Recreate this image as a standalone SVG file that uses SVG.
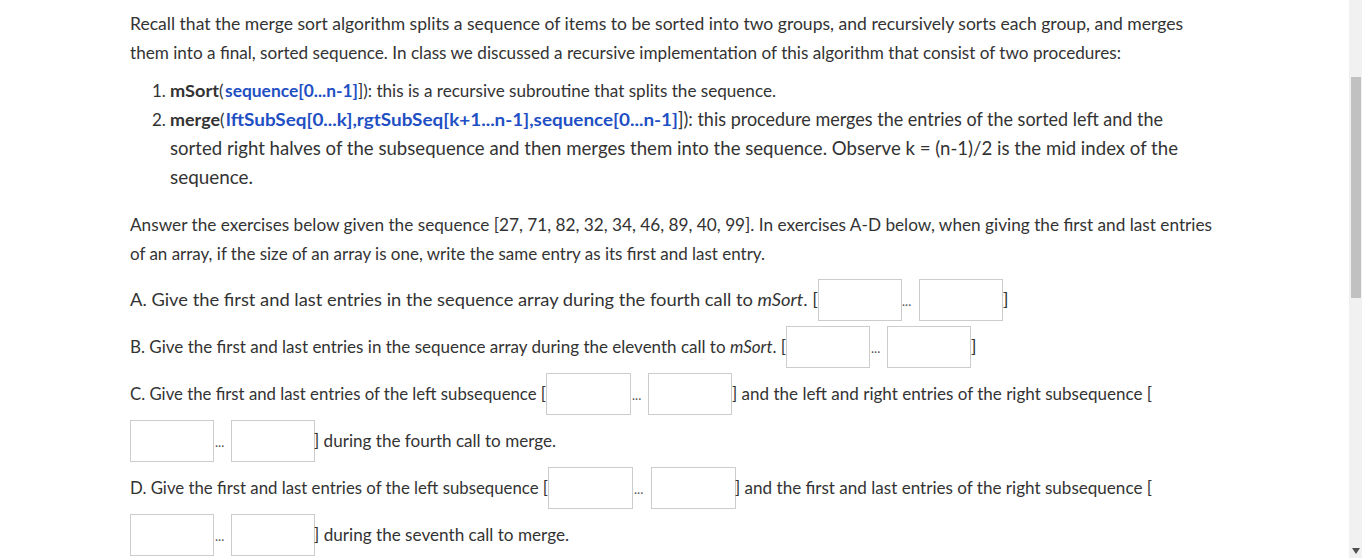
<svg xmlns="http://www.w3.org/2000/svg" width="1362" height="558" viewBox="0 0 1362 558">
<style>
text{font-family:Lato,"Open Sans","Liberation Sans",sans-serif;fill:#333;font-size:18px}
.s{font-size:17px}
.b{font-weight:bold}
.bl{fill:#1f4fc4;font-weight:bold;font-size:16.5px}
.box{fill:#fff;stroke:#ccc;stroke-width:1}
.d{font-size:13px;fill:#555}
</style>
<rect width="1362" height="558" fill="#fff"/>
<text x="130" y="30" textLength="1053" lengthAdjust="spacingAndGlyphs">Recall that the merge sort algorithm splits a sequence of items to be sorted into two groups, and recursively sorts each group, and merges</text>
<text x="130" y="59" textLength="991" lengthAdjust="spacingAndGlyphs" class="s">them into a final, sorted sequence. In class we discussed a recursive implementation of this algorithm that consist of two procedures:</text>
<text x="152" y="97" class="s">1.</text>
<text x="170" y="97" class="s b" textLength="49" lengthAdjust="spacingAndGlyphs">mSort</text>
<text x="219" y="97" class="s">(</text>
<text x="225" y="97" class="bl" textLength="133" lengthAdjust="spacingAndGlyphs">sequence[0...n-1]</text>
<text x="358" y="97" class="s" textLength="418" lengthAdjust="spacingAndGlyphs">]): this is a recursive subroutine that splits the sequence.</text>
<text x="152" y="126" class="s">2.</text>
<text x="170" y="126" class="s b" textLength="50" lengthAdjust="spacingAndGlyphs">merge</text>
<text x="220" y="126" class="s">(</text>
<text x="226" y="126" class="bl" textLength="452" lengthAdjust="spacingAndGlyphs">lftSubSeq[0...k],rgtSubSeq[k+1...n-1],sequence[0...n-1]</text>
<text x="678" y="126" style="font-size:19px" textLength="485" lengthAdjust="spacingAndGlyphs">]): this procedure merges the entries of the sorted left and the</text>
<text x="170" y="155" style="font-size:19px" textLength="1008" lengthAdjust="spacingAndGlyphs">sorted right halves of the subsequence and then merges them into the sequence. Observe k = (n-1)/2 is the mid index of the</text>
<text x="170" y="184" style="font-size:19px" textLength="83" lengthAdjust="spacingAndGlyphs">sequence.</text>
<text x="130" y="231" textLength="1082" lengthAdjust="spacingAndGlyphs">Answer the exercises below given the sequence [27, 71, 82, 32, 34, 46, 89, 40, 99]. In exercises A-D below, when giving the first and last entries</text>
<text x="130" y="260" class="s" textLength="635" lengthAdjust="spacingAndGlyphs">of an array, if the size of an array is one, write the same entry as its first and last entry.</text>

<g id="qA">
<text x="130" y="306" textLength="688" lengthAdjust="spacingAndGlyphs">A. Give the first and last entries in the sequence array during the fourth call to <tspan font-style="italic">mSort</tspan>. [</text>
<rect class="box" x="818.5" y="279.5" width="83" height="41"/>
<text x="902" y="306" class="d">...</text>
<rect class="box" x="919.5" y="279.5" width="83" height="41"/>
<text x="1003" y="306">]</text>
</g>
<g id="qB">
<text x="130" y="353" class="s" textLength="656" lengthAdjust="spacingAndGlyphs">B. Give the first and last entries in the sequence array during the eleventh call to <tspan font-style="italic">mSort</tspan>. [</text>
<rect class="box" x="786.5" y="326.5" width="83" height="41"/>
<text x="871" y="353" class="d">...</text>
<rect class="box" x="887.5" y="326.5" width="83" height="41"/>
<text x="971" y="353">]</text>
</g>
<g id="qC">
<text x="130" y="400" class="s" textLength="416" lengthAdjust="spacingAndGlyphs">C. Give the first and last entries of the left subsequence [</text>
<rect class="box" x="546.5" y="373.5" width="84" height="41"/>
<text x="632" y="400" class="d">...</text>
<rect class="box" x="648.5" y="373.5" width="83" height="41"/>
<text x="732" y="400" class="s" textLength="420" lengthAdjust="spacingAndGlyphs">] and the left and right entries of the right subsequence [</text>
<rect class="box" x="130.5" y="420.5" width="83" height="41"/>
<text x="215" y="447" class="d">...</text>
<rect class="box" x="231.5" y="420.5" width="83" height="41"/>
<text x="314" y="447" class="s" textLength="242" lengthAdjust="spacingAndGlyphs">] during the fourth call to merge.</text>
</g>
<g id="qD">
<text x="130" y="494" class="s" textLength="418" lengthAdjust="spacingAndGlyphs">D. Give the first and last entries of the left subsequence [</text>
<rect class="box" x="548.5" y="467.5" width="84" height="41"/>
<text x="634" y="494" class="d">...</text>
<rect class="box" x="651.5" y="467.5" width="84" height="41"/>
<text x="735" y="494" class="s" textLength="417" lengthAdjust="spacingAndGlyphs">] and the first and last entries of the right subsequence [</text>
<rect class="box" x="130.5" y="514.5" width="83" height="41"/>
<text x="215" y="541" class="d">...</text>
<rect class="box" x="231.5" y="514.5" width="83" height="41"/>
<text x="314" y="541" class="s" textLength="255" lengthAdjust="spacingAndGlyphs">] during the seventh call to merge.</text>
</g>
<g id="scrollbar">
<rect x="1349" y="0" width="13" height="558" fill="#f1f1f1"/>
<rect x="1351" y="77" width="10" height="221" fill="#c1c1c1"/>
<path d="M1352 548 L1360 548 L1356 554 Z" fill="#505050"/>
</g>
</svg>
